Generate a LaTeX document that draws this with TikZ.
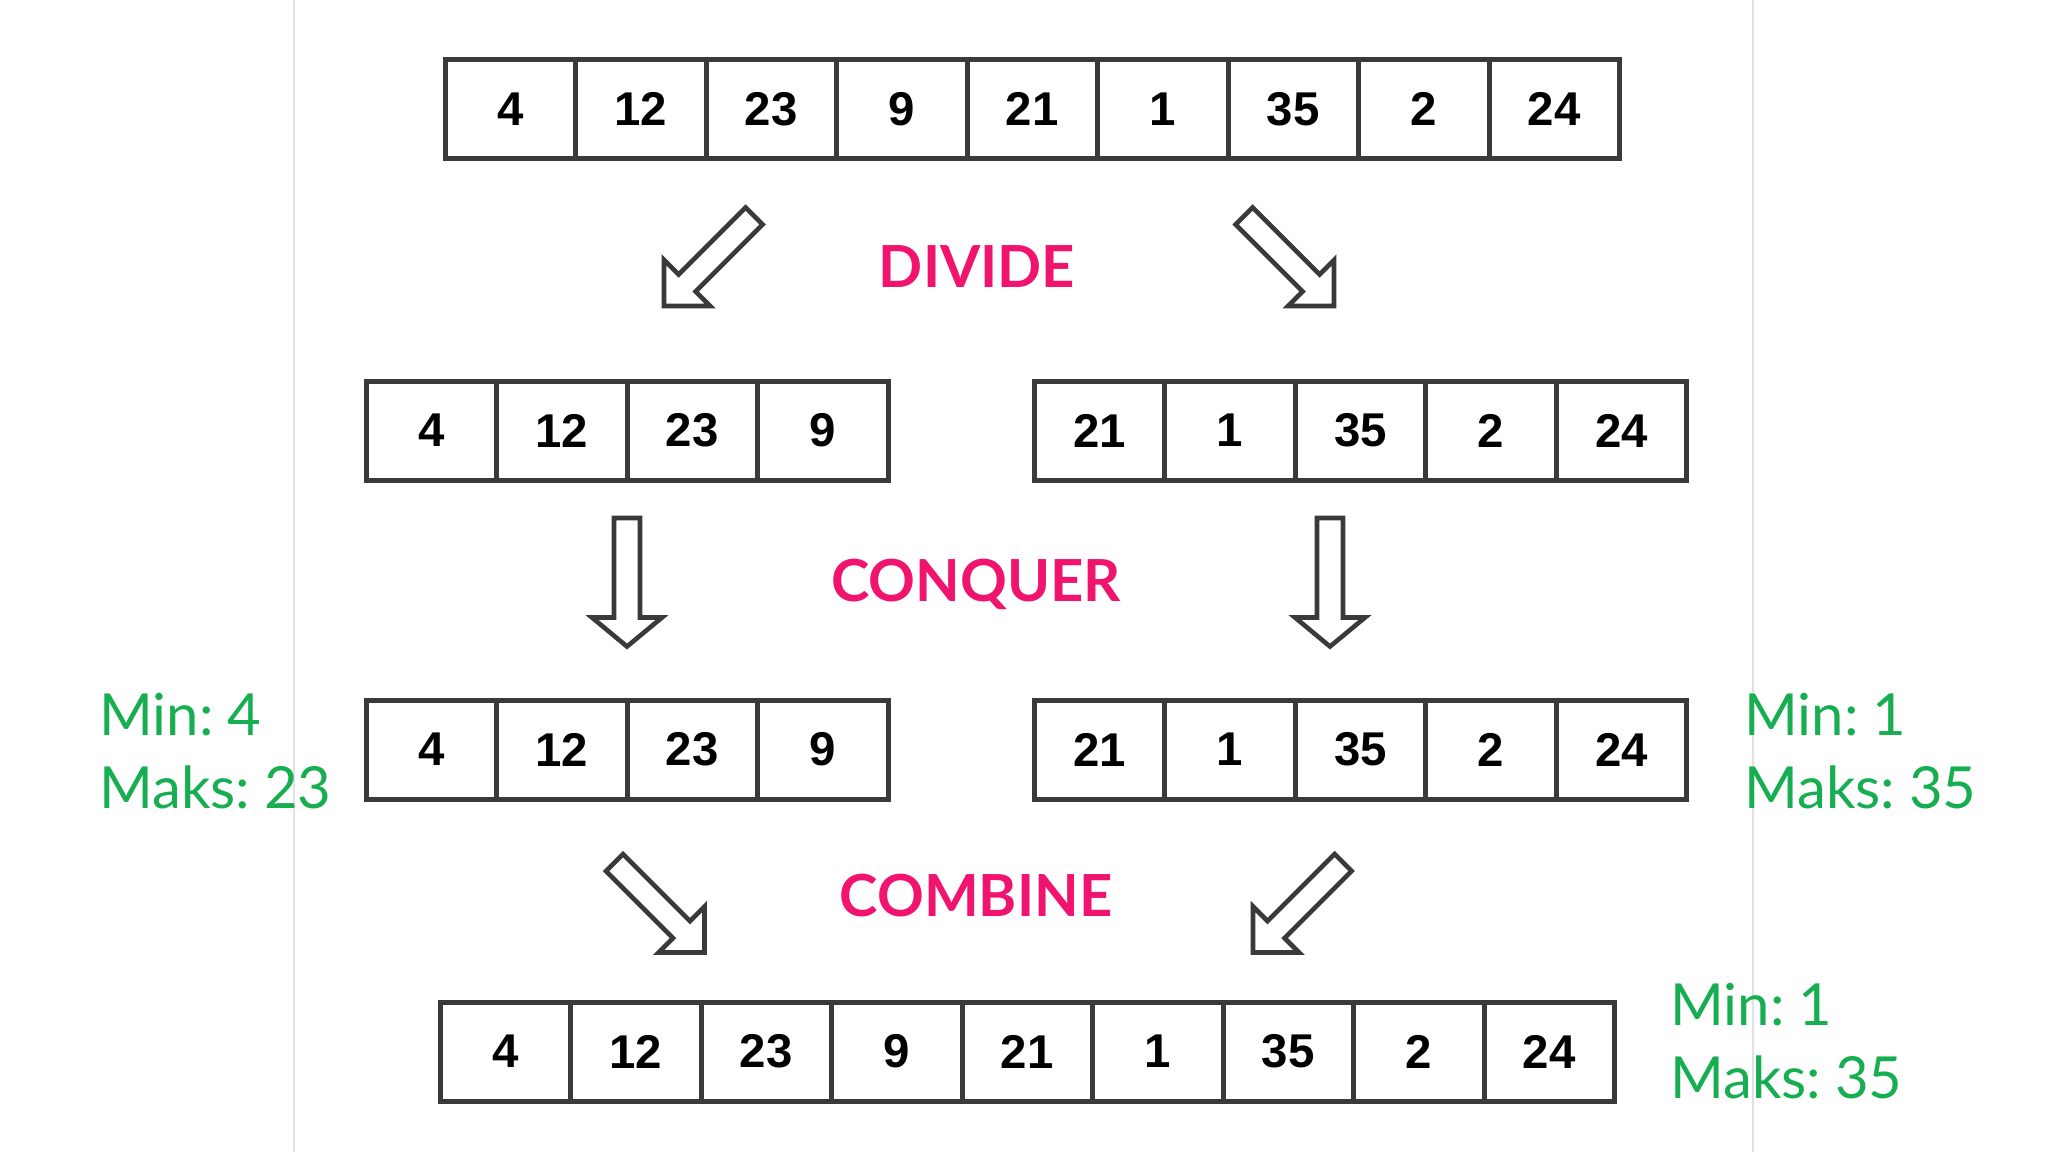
\documentclass[tikz,border=0pt]{standalone}
\usepackage{fontspec}
\setmainfont{Liberation Sans}
\newfontfamily\latofont[WordSpace=0.6]{Lato}
\definecolor{pinkc}{RGB}{240,20,110}
\definecolor{greenc}{RGB}{22,174,80}
\definecolor{edgec}{RGB}{58,58,58}
\definecolor{guidec}{RGB}{226,226,226}
\begin{document}
\begin{tikzpicture}[x=0.5pt,y=-0.5pt,
  cell/.style={draw=edgec, line width=2.5pt, fill=white, minimum width=65.25pt,
    minimum height=49.5pt, inner sep=0pt, font=\fontsize{23.7}{26}\selectfont\bfseries},
  stage/.style={text=pinkc, font=\latofont\bfseries\fontsize{29}{32}\selectfont,
    anchor=base, inner sep=0pt},
  result/.style={text=greenc, font=\latofont\fontsize{29}{32}\selectfont,
    anchor=base west, inner sep=0pt},
  blockarrow/.style={draw=edgec, line width=2.3pt, fill=white, line join=miter}]
\useasboundingbox (0,0) rectangle (2048,1152);
\fill[white] (0,0) rectangle (2048,1152);
\draw[guidec, line width=0.6pt] (294,0) -- (294,1152);
\draw[guidec, line width=0.6pt] (1753,0) -- (1753,1152);

% top array
\foreach \v [count=\i] in {4,12,23,9,21,1,35,2,24}
  \node[cell] (top\i) at ({445+65.25+130.5*(\i-1)},109) {\v};
% divided halves
\foreach \v [count=\i] in {4,12,23,9}
  \node[cell] (dl\i) at ({366+65.25+130.5*(\i-1)},430.5) {\v};
\foreach \v [count=\i] in {21,1,35,2,24}
  \node[cell] (dr\i) at ({1034.4+65.25+130.5*(\i-1)},430.5) {\v};
% conquered halves
\foreach \v [count=\i] in {4,12,23,9}
  \node[cell] (cl\i) at ({366+65.25+130.5*(\i-1)},749.5) {\v};
\foreach \v [count=\i] in {21,1,35,2,24}
  \node[cell] (cr\i) at ({1034.4+65.25+130.5*(\i-1)},749.5) {\v};
% combined array
\foreach \v [count=\i] in {4,12,23,9,21,1,35,2,24}
  \node[cell] (bot\i) at ({440+65.25+130.5*(\i-1)},1051.5) {\v};

% stage labels
\node[stage] (divide) at (977,287) {DIVIDE};
\node[stage] (conquer) at (976,601) {CONQUER};
\node[stage] (combine) at (976,916) {COMBINE};

% result labels
\node[result] (minl) at (99,735) {Min: 4};
\node[result] (maxl) at (99,808) {Maks: 23};
\node[result] (minr) at (1744,735) {Min: 1};
\node[result] (maxr) at (1744,808) {Maks: 35};
\node[result] (minb) at (1670,1025) {Min: 1};
\node[result] (maxb) at (1670,1098) {Maks: 35};

% block arrows
\draw[blockarrow] (762.5,224.5) -- (695.5,291.5) -- (710,306) -- (664,306) -- (664,260) -- (678.5,274.5) -- (745.5,207.5) -- cycle;
\draw[blockarrow] (1235.5,224.5) -- (1302.5,291.5) -- (1288,306) -- (1334,306) -- (1334,260) -- (1319.5,274.5) -- (1252.5,207.5) -- cycle;
\draw[blockarrow] (640,518) -- (640,617.5) -- (662,617.5) -- (627,646.5) -- (592,617.5) -- (614,617.5) -- (614,518) -- cycle;
\draw[blockarrow] (1343,518) -- (1343,617.5) -- (1365,617.5) -- (1330,646.5) -- (1295,617.5) -- (1317,617.5) -- (1317,518) -- cycle;
\draw[blockarrow] (623,854) -- (690,921) -- (704.5,906.5) -- (704.5,952.5) -- (658.5,952.5) -- (673,938) -- (606,871) -- cycle;
\draw[blockarrow] (1334.5,854) -- (1267.5,921) -- (1253,906.5) -- (1253,952.5) -- (1299,952.5) -- (1284.5,938) -- (1351.5,871) -- cycle;
\end{tikzpicture}
\end{document}
